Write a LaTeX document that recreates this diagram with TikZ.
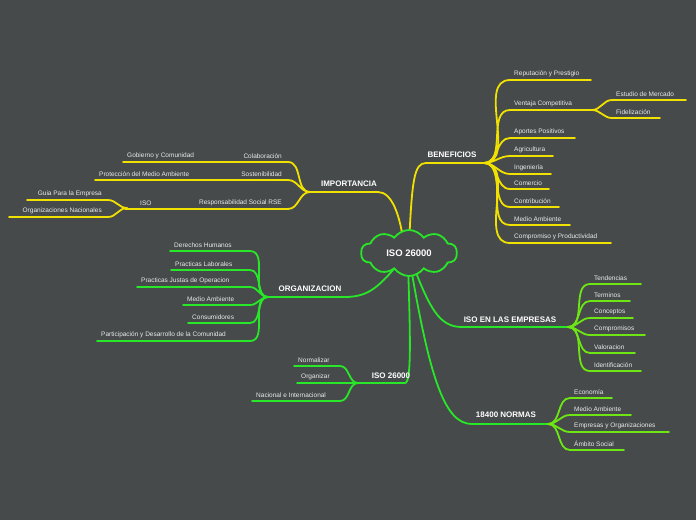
\documentclass[tikz,border=0pt]{standalone}
\usepackage{fontspec}
\setmainfont{Liberation Sans}
\usetikzlibrary{shapes.symbols}
\definecolor{bg}{RGB}{70,74,74}
\definecolor{yel}{RGB}{240,225,0}
\definecolor{grn}{RGB}{40,230,40}
\definecolor{lime}{RGB}{110,230,20}
\tikzset{
 lbl/.style={font=\fontsize{6.5}{7}\selectfont,text=white!92!black,inner sep=1pt},
 mainlbl/.style={font=\bfseries\fontsize{8}{9}\selectfont,text=white,inner sep=1pt},
 yl/.style={draw=yel,line width=1.8pt,line cap=round},
 gl/.style={draw=grn,line width=1.8pt,line cap=round},
 ll/.style={draw=lime,line width=1.8pt,line cap=round},
}
% right leaf: hub, x1, x2, y, text, style
\newcommand\leafR[6]{\draw[#6] (#1) to[out=0,in=180] (#2,#4) -- (#3,#4);
 \node[lbl,anchor=south west] at (#2+3,#4-2) {#5};}
% left leaf, text at far end: hub, x1(near hub), x2(far), y, text, style
\newcommand\leafL[6]{\draw[#6] (#1) to[out=180,in=0] (#2,#4) -- (#3,#4);
 \node[lbl,anchor=south west] at (#3+3,#4-2) {#5};}
% left leaf, text at near end
\newcommand\leafLn[6]{\draw[#6] (#1) to[out=180,in=0] (#2,#4) -- (#3,#4);
 \node[lbl,anchor=south east] at (#2-5,#4-2) {#5};}
\begin{document}
\begin{tikzpicture}[x=1pt,y=-1pt]
\fill[bg] (0,0) rectangle (696,520);
\useasboundingbox (0,0) rectangle (696,520);

% ---- main connectors
\coordinate (hBen) at (484,163);
\coordinate (hImp) at (310,192);
\coordinate (hOrg) at (268,297);
\coordinate (hIso) at (358,383);
\coordinate (hEmp) at (568,327);
\coordinate (hNor) at (548,424);
\draw[yl] (409,245) .. controls (412,180) and (414,163) .. (426,163) -- (hBen);
\draw[yl] (404,245) .. controls (400,215) and (392,192) .. (378,192) -- (hImp);
\draw[gl] (400,262) .. controls (380,285) and (370,297) .. (345,297) -- (hOrg);
\draw[gl] (408,262) .. controls (410,330) and (412,383) .. (405,383) -- (hIso);
\draw[gl] (412,262) .. controls (430,310) and (440,327) .. (462,327) -- (hEmp);
\draw[gl] (410,262) .. controls (430,380) and (445,424) .. (472,424) -- (hNor);
\node[mainlbl] (ben) at (452,155) {BENEFICIOS};
\node[mainlbl] (imp) at (349,184) {IMPORTANCIA};
\node[mainlbl] (org) at (310,289) {ORGANIZACION};
\node[mainlbl] (iso) at (391,376) {ISO 26000};
\node[mainlbl] (emp) at (510,320) {ISO EN LAS EMPRESAS};
\node[mainlbl] (nor) at (506,415) {18400 NORMAS};

% ---- center
\node[cloud,cloud puffs=10,cloud puff arc=110,aspect=2.4,draw=grn,line width=1.8pt,fill=bg,
 minimum width=96pt,minimum height=46pt,font=\bfseries\fontsize{9.5}{11}\selectfont,text=white] (c) at (409,253) {ISO 26000};

% ---- BENEFICIOS
\leafR{hBen}{510}{591}{80}{Reputación y Prestigio}{yl}
\leafR{hBen}{510}{595}{110}{Ventaja Competitiva}{yl}
\coordinate (hVen) at (592,110);
\leafR{hVen}{612}{686}{100}{Estudio de Mercado}{yl}
\leafR{hVen}{612}{660}{118}{Fidelización}{yl}
\leafR{hBen}{510}{575}{138}{Aportes Positivos}{yl}
\leafR{hBen}{510}{553}{156}{Agricultura}{yl}
\leafR{hBen}{510}{551}{174}{Ingeniería}{yl}
\leafR{hBen}{510}{549}{189}{Comercio}{yl}
\leafR{hBen}{510}{559}{207}{Contribución}{yl}
\leafR{hBen}{510}{570}{225}{Medio Ambiente}{yl}
\leafR{hBen}{510}{611}{243}{Compromiso y Productividad}{yl}

% ---- IMPORTANCIA
\leafLn{hImp}{288}{123}{162}{Colaboración}{yl}
\node[lbl,anchor=south west] at (126,160) {Gobierno y Comunidad};
\leafLn{hImp}{288}{95}{180}{Sostenibilidad}{yl}
\node[lbl,anchor=south west] at (98,178) {Protección del Medio Ambiente};
\leafLn{hImp}{288}{125}{209}{Responsabilidad Social RSE}{yl}
\node[lbl,anchor=south west] at (139,207) {ISO};
\coordinate (hRse) at (127,208);
\leafLn{hRse}{108}{27}{200}{Guia Para la Empresa}{yl}
\leafLn{hRse}{108}{9}{217}{Organizaciones Nacionales}{yl}

% ---- ORGANIZACION
\leafL{hOrg}{250}{170}{251}{Derechos Humanos}{gl}
\leafL{hOrg}{250}{171}{270}{Practicas Laborales}{gl}
\leafL{hOrg}{250}{137}{287}{Practicas Justas de Operacion}{gl}
\leafL{hOrg}{250}{183}{305}{Medio Ambiente}{gl}
\leafL{hOrg}{250}{188}{323}{Consumidores}{gl}
\leafL{hOrg}{250}{97}{341}{Participación y Desarrollo de la Comunidad}{gl}

% ---- ISO 26000
\leafL{hIso}{340}{294}{366}{Normalizar}{gl}
\leafL{hIso}{343}{297}{383}{Organizar}{gl}
\leafL{hIso}{340}{252}{401}{Nacional e Internacional}{gl}

% ---- ISO EN LAS EMPRESAS
\leafR{hEmp}{590}{641}{284}{Tendencias}{ll}
\leafR{hEmp}{590}{630}{301}{Terminos}{ll}
\leafR{hEmp}{590}{633}{318}{Conceptos}{ll}
\leafR{hEmp}{590}{645}{335}{Compromisos}{ll}
\leafR{hEmp}{590}{635}{353}{Valoracion}{ll}
\leafR{hEmp}{590}{641}{371}{Identificación}{ll}

% ---- 18400 NORMAS
\leafR{hNor}{570}{612}{398}{Economía}{ll}
\leafR{hNor}{570}{631}{415}{Medio Ambiente}{ll}
\leafR{hNor}{570}{669}{432}{Empresas y Organizaciones}{ll}
\leafR{hNor}{570}{624}{450}{Ámbito Social}{ll}
\end{tikzpicture}
\end{document}
